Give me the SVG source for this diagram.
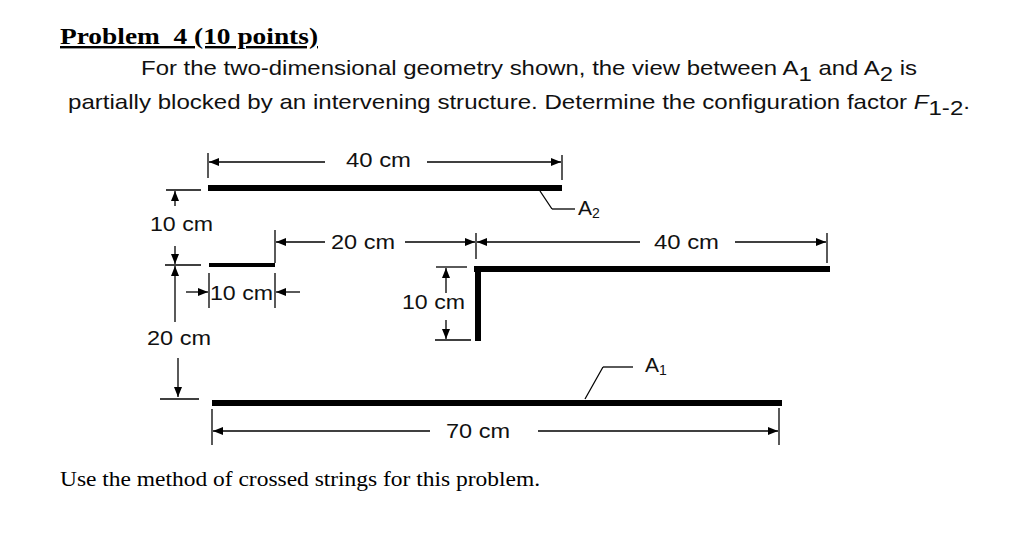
<svg xmlns="http://www.w3.org/2000/svg" width="1024" height="546" viewBox="0 0 1024 546">
<defs>
<marker id="ah" viewBox="0 0 10 10" refX="10" refY="5" markerWidth="10" markerHeight="10" markerUnits="userSpaceOnUse" orient="auto"><path d="M0,1 L10,5 L0,9 Z" fill="#000"/></marker>
<style>
.t{font-family:"Liberation Sans",Arial,sans-serif;font-size:21px;fill:#111}
.d{font-family:"Liberation Sans",Arial,sans-serif;font-size:21px;fill:#111}
.d text{lengthAdjust:spacingAndGlyphs}
.s{font-family:"Liberation Serif","Times New Roman",serif;fill:#000}
.thin{stroke:#000;stroke-width:1.3;fill:none}
.a{stroke:#000;stroke-width:1.3;fill:none;marker-end:url(#ah)}
</style>
</defs>
<rect width="1024" height="546" fill="#fff"/>
<g id="text">
<text x="60" y="44" class="s" font-size="24" font-weight="bold" text-decoration="underline" textLength="258" lengthAdjust="spacingAndGlyphs" xml:space="preserve">Problem  4 (10 points)</text>
<text x="141" y="75" class="t" textLength="776" lengthAdjust="spacingAndGlyphs">For the two-dimensional geometry shown, the view between A<tspan dy="6">1</tspan><tspan dy="-6"> and A</tspan><tspan dy="6">2</tspan><tspan dy="-6"> is</tspan></text>
<text x="68" y="109" class="t" textLength="902" lengthAdjust="spacingAndGlyphs">partially blocked by an intervening structure.  Determine the configuration factor <tspan font-style="italic">F</tspan><tspan dy="6">1-2</tspan><tspan dy="-6">.</tspan></text>
<text x="60" y="486" class="s" font-size="22" textLength="480" lengthAdjust="spacingAndGlyphs">Use the method of crossed strings for this problem.</text>
</g>
<g id="surfaces" fill="#000">
<rect x="208" y="185" width="354" height="6"/>
<rect x="209" y="263" width="66" height="4"/>
<rect x="474" y="266" width="356" height="6"/>
<rect x="475" y="266" width="6" height="75"/>
<rect x="212" y="400" width="570" height="6"/>
</g>
<g id="connectors">
<line class="thin" x1="208" y1="153" x2="208" y2="178"/>
<line class="thin" x1="562" y1="155" x2="562" y2="180"/>
<line class="a" x1="325" y1="162" x2="209" y2="162"/>
<line class="a" x1="427" y1="162" x2="561" y2="162"/>
<line class="thin" x1="275" y1="230" x2="275" y2="263"/>
<line class="a" x1="325" y1="242" x2="276" y2="242"/>
<line class="a" x1="405" y1="242" x2="475" y2="242"/>
<line class="thin" x1="476" y1="233" x2="476" y2="259"/>
<line class="a" x1="640" y1="242" x2="477" y2="242"/>
<line class="a" x1="735" y1="242" x2="826" y2="242"/>
<line class="thin" x1="827" y1="233" x2="827" y2="263"/>
<line class="thin" x1="212" y1="409" x2="212" y2="445"/>
<line class="thin" x1="779" y1="408" x2="779" y2="445"/>
<line class="a" x1="430" y1="431" x2="213" y2="431"/>
<line class="a" x1="538" y1="431" x2="778" y2="431"/>
<line class="thin" x1="166" y1="190" x2="201" y2="190"/>
<line class="a" x1="175" y1="206" x2="175" y2="191"/>
<line class="a" x1="175" y1="246" x2="175" y2="264"/>
<line class="thin" x1="165" y1="265" x2="201" y2="265"/>
<line class="a" x1="175" y1="322" x2="175" y2="266"/>
<line class="a" x1="178" y1="358" x2="178" y2="397"/>
<line class="thin" x1="160" y1="399" x2="199" y2="399"/>
<line class="thin" x1="209" y1="273" x2="209" y2="308"/>
<line class="thin" x1="275" y1="273" x2="275" y2="308"/>
<line class="a" x1="186" y1="292" x2="208" y2="292"/>
<line class="a" x1="300" y1="292" x2="276" y2="292"/>
<line class="thin" x1="436" y1="267" x2="467" y2="267"/>
<line class="thin" x1="435" y1="340" x2="471" y2="340"/>
<line class="a" x1="446" y1="293" x2="446" y2="268"/>
<line class="a" x1="446" y1="320" x2="446" y2="339"/>
<line class="thin" x1="540" y1="191" x2="552" y2="209"/>
<line class="thin" x1="552" y1="209" x2="575" y2="209"/>
<line class="thin" x1="585" y1="399" x2="603" y2="367"/>
<line class="thin" x1="603" y1="367" x2="633" y2="367"/>
</g>
<g id="labels" class="d">
<text x="346" y="167" textLength="65" lengthAdjust="spacingAndGlyphs">40 cm</text>
<text x="331" y="249" textLength="64" lengthAdjust="spacingAndGlyphs">20 cm</text>
<text x="654" y="249" textLength="65" lengthAdjust="spacingAndGlyphs">40 cm</text>
<text x="446" y="438" textLength="64" lengthAdjust="spacingAndGlyphs">70 cm</text>
<text x="150" y="231" textLength="63" lengthAdjust="spacingAndGlyphs">10 cm</text>
<text x="147" y="345" textLength="64" lengthAdjust="spacingAndGlyphs">20 cm</text>
<text x="210" y="300" textLength="63" lengthAdjust="spacingAndGlyphs">10 cm</text>
<text x="402" y="309" textLength="63" lengthAdjust="spacingAndGlyphs">10 cm</text>
<text x="578" y="215">A<tspan font-size="14" dy="3">2</tspan></text>
<text x="645" y="372">A<tspan font-size="14" dy="3">1</tspan></text>
</g>
</svg>
